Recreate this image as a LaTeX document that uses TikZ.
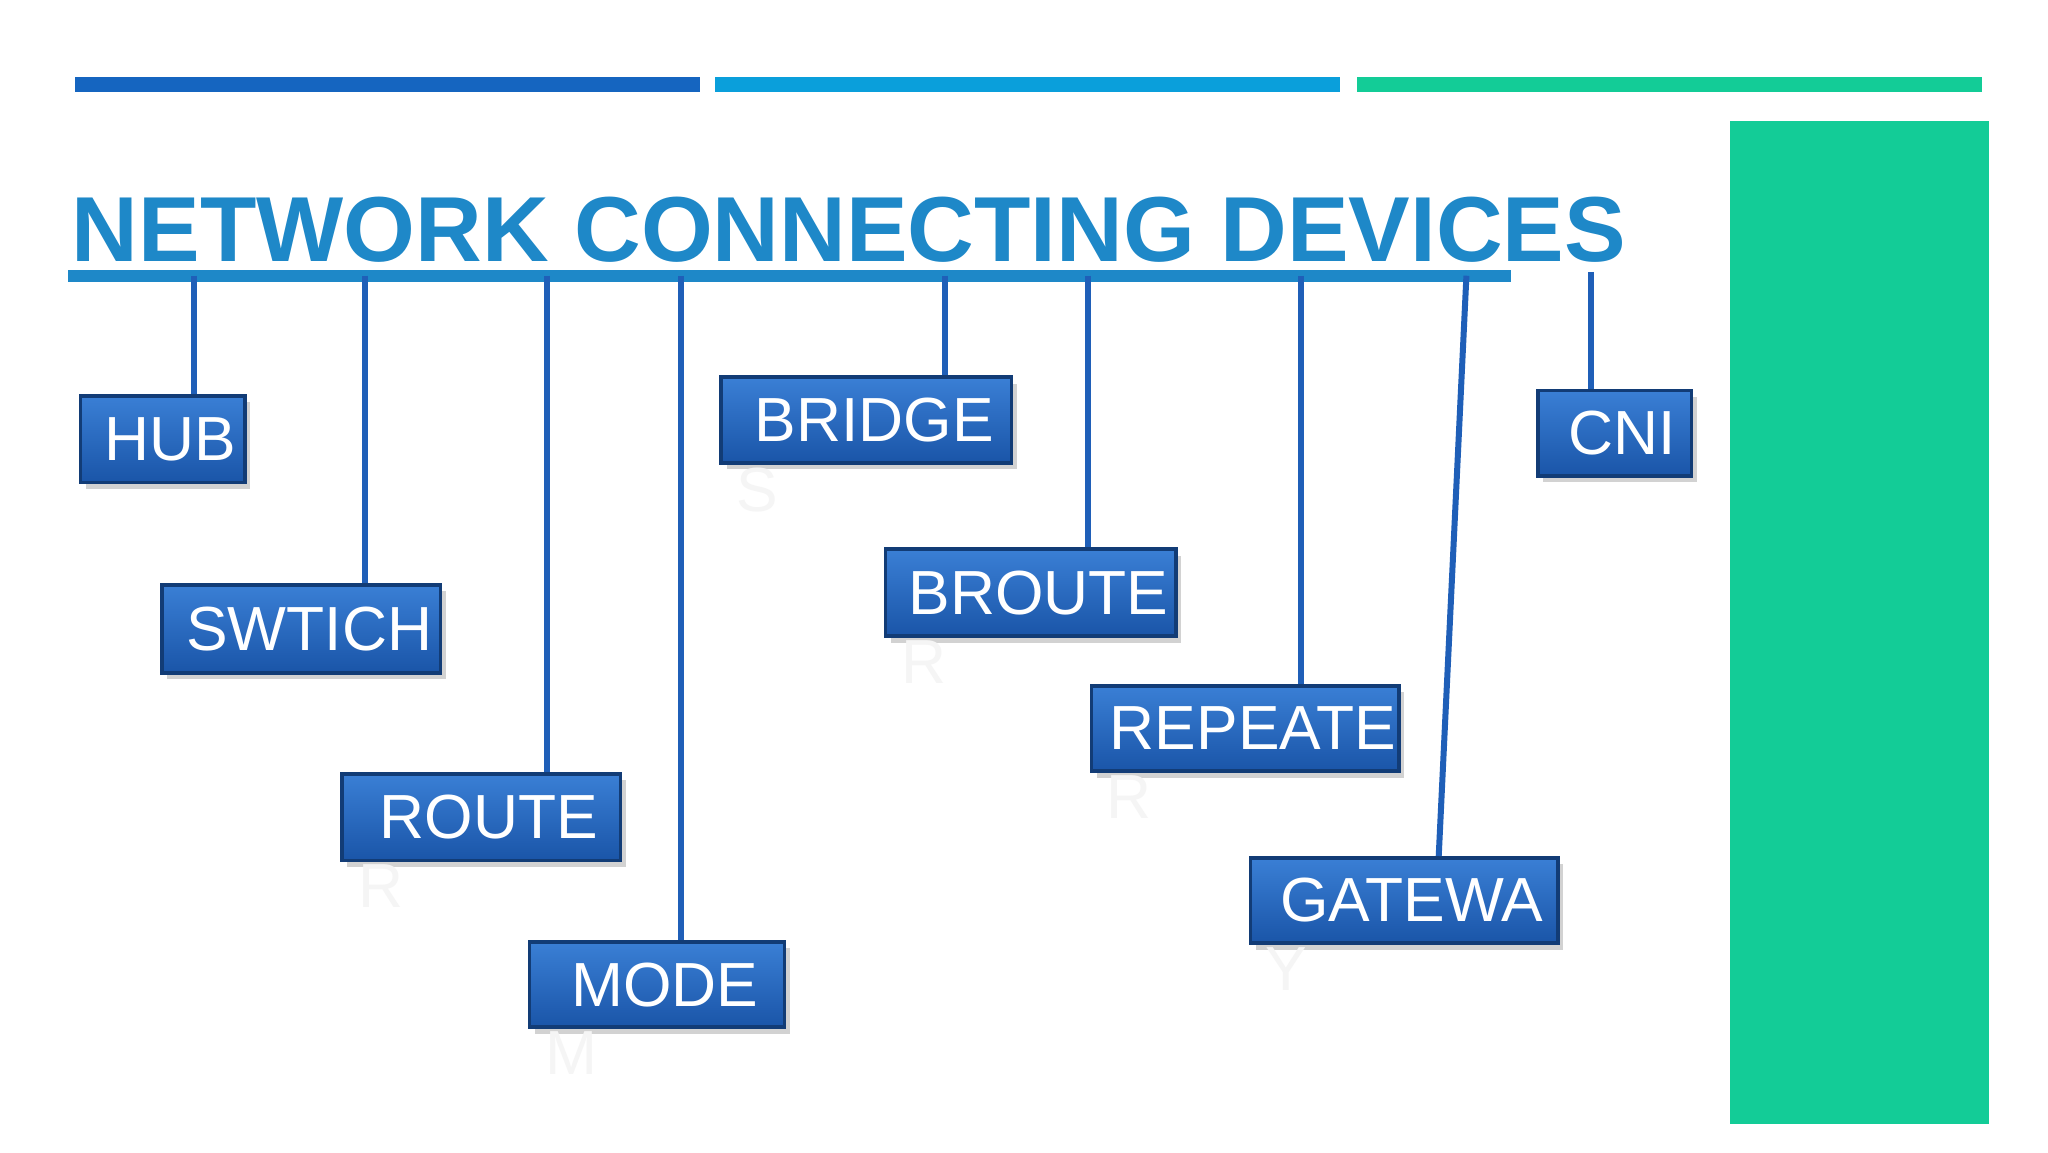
\documentclass[tikz,border=0pt]{standalone}
\usepackage{fontspec}
\setmainfont{Liberation Sans}
\usetikzlibrary{shadows}
\definecolor{barA}{HTML}{1565C0}
\definecolor{barB}{HTML}{0A9FDB}
\definecolor{barC}{HTML}{13CC97}
\definecolor{titleblue}{HTML}{1E88C8}
\definecolor{boxtop}{HTML}{3A7FD5}
\definecolor{boxbot}{HTML}{1A55A8}
\definecolor{linkblue}{HTML}{1F5FB8}
\begin{document}
\begin{tikzpicture}[x=0.01cm,y=-0.01cm,
  dev/.style={draw=boxbot!70!black,line width=0.8pt,top color=boxtop,bottom color=boxbot,
    anchor=north west,inner sep=0pt,text=white,font=\fontsize{13.5}{14}\selectfont,
    drop shadow={opacity=0.35,shadow xshift=0.04cm,shadow yshift=-0.05cm}},
  spill/.style={anchor=north west,inner sep=0pt,text=white!92!gray,font=\fontsize{13.5}{14}\selectfont},
  link/.style={draw=linkblue,line width=1.3pt}]
\useasboundingbox (0,0) rectangle (1560,877.5);
\fill[white] (0,0) rectangle (1560,877.5);

% bars and side panel
\fill[barA] (57,59) rectangle (533,70);
\fill[barB] (545,59) rectangle (1021,70);
\fill[barC] (1034,59) rectangle (1510,70);
\fill[barC] (1318,92) rectangle (1515,856);

% title
\node[anchor=base west,inner sep=0pt,text=titleblue,font=\fontsize{20}{22}\bfseries\selectfont] (title) at (54,199) {NETWORK CONNECTING DEVICES};
\draw[titleblue,line width=2.6pt] (52,210) coordinate (ul) -- (1151,210) coordinate (ur);

% boxes
\node[dev,minimum width=1.25cm,minimum height=0.66cm] (hub) at (60,300) {\hspace{0.12cm}HUB\hfill};
\node[dev,minimum width=2.12cm,minimum height=0.67cm] (swtich) at (122,444) {\hspace{0.12cm}SWTICH\hfill};
\node[dev,minimum width=2.12cm,minimum height=0.66cm] (route) at (259,588) {\hspace{0.12cm}ROUTE\hfill};
\node[dev,minimum width=1.94cm,minimum height=0.65cm] (mode) at (402,716) {\hspace{0.12cm}MODE\hfill};
\node[dev,minimum width=2.21cm,minimum height=0.65cm] (bridge) at (548,286) {\hspace{0.12cm}BRIDGE\hfill};
\node[dev,minimum width=2.21cm,minimum height=0.66cm] (broute) at (673,417) {\hspace{0.12cm}BROUTE\hfill};
\node[dev,minimum width=2.34cm,minimum height=0.65cm] (repeate) at (830,521) {\hspace{0.12cm}REPEATE\hfill};
\node[dev,minimum width=2.34cm,minimum height=0.65cm] (gatewa) at (951,652) {\hspace{0.12cm}GATEWA\hfill};
\node[dev,minimum width=1.17cm,minimum height=0.65cm] (cni) at (1170,296) {\hspace{0.12cm}CNI\hfill};

% overflow letters
\node[spill] (sB) at (560,356) {S};
\node[spill] (sBr) at (686,487) {R};
\node[spill] (sR) at (272,658) {R};
\node[spill] (sM) at (415,785) {M};
\node[spill] (sRp) at (842,590) {R};
\node[spill] (sG) at (963,721) {Y};

% connectors
\coordinate (c1) at (148,210);
\coordinate (c2) at (278,210);
\coordinate (c3) at (417,210);
\coordinate (c4) at (519,210);
\coordinate (c5) at (720,210);
\coordinate (c6) at (829,210);
\coordinate (c7) at (991,210);
\coordinate (c8) at (1117,210);
\coordinate (c9) at (1212,207);
\draw[link] (c1) -- (c1 |- hub.north);
\draw[link] (c2) -- (c2 |- swtich.north);
\draw[link] (c3) -- (c3 |- route.north);
\draw[link] (c4) -- (c4 |- mode.north);
\draw[link] (c5) -- (c5 |- bridge.north);
\draw[link] (c6) -- (c6 |- broute.north);
\draw[link] (c7) -- (c7 |- repeate.north);
\draw[link] (c8) -- ([xshift=-6]c8 |- gatewa.north);
\draw[link] (c9) -- (c9 |- cni.north);
\end{tikzpicture}
\end{document}
